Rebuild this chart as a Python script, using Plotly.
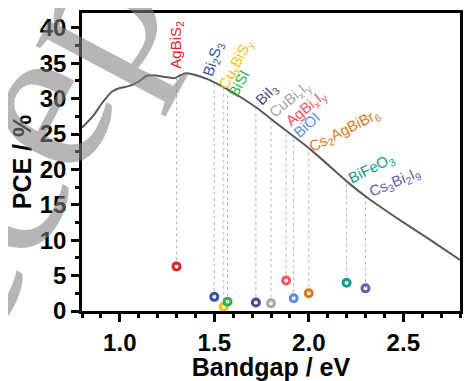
import numpy as np
import plotly.graph_objects as go

# Shockley-Queisser limit curve
sq_bandgap = [0.80, 0.86, 0.91, 0.96, 1.00, 1.05, 1.10, 1.14, 1.18, 1.23, 1.29, 1.32, 1.35,
              1.39, 1.46, 1.53, 1.59, 1.64, 1.73, 1.82, 2.01, 2.21, 2.31, 2.49, 2.65, 2.80]
sq_pce = [25.9, 27.6, 29.5, 31.0, 31.5, 31.8, 32.4, 33.2, 33.3, 33.1, 32.9, 33.3, 33.6,
          33.4, 32.8, 31.9, 31.0, 30.2, 28.6, 26.7, 22.8, 18.1, 16.0, 12.7, 9.9, 7.2]

# Materials
materials = ["AgBiS<sub>2</sub>", "Bi<sub>2</sub>S<sub>3</sub>", "Cu<sub>x</sub>BiS<sub>y</sub>", "BiSI",
             "BiI<sub>3</sub>", "CuBi<sub>x</sub>I<sub>y</sub>", "AgBi<sub>x</sub>I<sub>y</sub>", "BiOI",
             "Cs<sub>2</sub>AgBiBr<sub>6</sub>", "BiFeO<sub>3</sub>", "Cs<sub>3</sub>Bi<sub>2</sub>I<sub>9</sub>"]
mat_bandgap = [1.30, 1.50, 1.55, 1.57, 1.72, 1.80, 1.88, 1.92, 2.00, 2.20, 2.30]
mat_pce = [6.3, 2.0, 0.6, 1.3, 1.2, 1.1, 4.3, 1.8, 2.5, 4.0, 3.2]

x_ticks = [1.0, 1.5, 2.0, 2.5]
y_ticks = [0, 5, 10, 15, 20, 25, 30, 35, 40]

# styles
colors = ["#e0202a", "#34579c", "#f2c20f", "#2bb24c", "#4a4a8c", "#a6a6a6",
          "#ee5566", "#5b8fd4", "#d9791c", "#14998a", "#6b5cae"]
label_angle = [-90, -73, -62, -62, -45, -40, -40, -42, -27, -27, -23]
# label center offset in pixels from the curve point above each material
label_shift = [(0, 32), (-1, 23), (12, 23), (11, 6), (11, 13), (19, 20), (20, 22), (13, 12), (36, 18), (25, 13), (29, 14)]
FONT = "Liberation Sans, Arial, Helvetica, sans-serif"

fig = go.Figure()

curve_at = np.interp(mat_bandgap, sq_bandgap, sq_pce)

for i in range(len(materials)):
    fig.add_trace(go.Scatter(x=[mat_bandgap[i], mat_bandgap[i]], y=[mat_pce[i], curve_at[i]],
                             mode="lines", line=dict(color="#b4b4b4", width=1, dash="dot"),
                             showlegend=False, hoverinfo="skip"))

fig.add_trace(go.Scatter(x=sq_bandgap, y=sq_pce, mode="lines",
                         line=dict(color="#5a5a5a", width=2, shape="spline", smoothing=0.6),
                         showlegend=False))

fig.add_trace(go.Scatter(x=mat_bandgap, y=mat_pce, mode="markers",
                         marker=dict(symbol="circle-open", size=7, color=colors,
                                     line=dict(width=3, color=colors)),
                         showlegend=False))

for i in range(len(materials)):
    fig.add_annotation(x=mat_bandgap[i], y=curve_at[i], xref="x", yref="y",
                       text=materials[i], showarrow=False, textangle=label_angle[i],
                       xanchor="center", yanchor="middle",
                       xshift=label_shift[i][0], yshift=label_shift[i][1],
                       font=dict(family=FONT, size=15, color=colors[i]))

# watermark
fig.add_annotation(x=-0.278, y=0.326, xref="paper", yref="paper", text="Accep", showarrow=False,
                   textangle=-62, xanchor="center", yanchor="middle",
                   font=dict(family="Liberation Serif, Times New Roman, serif", size=220,
                             color="rgba(130,130,130,0.58)"))

axis_common = dict(showline=True, linecolor="black", linewidth=2.5, mirror=True,
                   ticks="outside", tickcolor="black", tickwidth=2.5, ticklen=8,
                   showgrid=False, zeroline=False,
                   tickfont=dict(family=FONT, size=24, color="black", weight="bold"))

fig.update_xaxes(range=[0.8, 2.8], tickvals=x_ticks, ticktext=[f"{v:.1f}" for v in x_ticks],
                 minor=dict(dtick=0.1, tick0=0.8, ticks="outside", ticklen=4, tickwidth=2.5,
                            tickcolor="black"),
                 title=dict(text="Bandgap / eV", standoff=0,
                            font=dict(family=FONT, size=25, color="black", weight="bold")),
                 **axis_common)
fig.update_yaxes(range=[0, 42.1], tickvals=y_ticks,
                 minor=dict(dtick=2.5, tick0=0, ticks="outside", ticklen=4, tickwidth=2.5,
                            tickcolor="black"),
                 title=dict(text="PCE / %", standoff=2,
                            font=dict(family=FONT, size=25, color="black", weight="bold")),
                 **axis_common)

# page body adds an 8px offset; figure sized to fill the remaining window
fig.update_layout(width=466, height=373, margin=dict(l=74, r=14, t=2, b=70),
                  plot_bgcolor="white", paper_bgcolor="white")

fig.write_html("out.html")
